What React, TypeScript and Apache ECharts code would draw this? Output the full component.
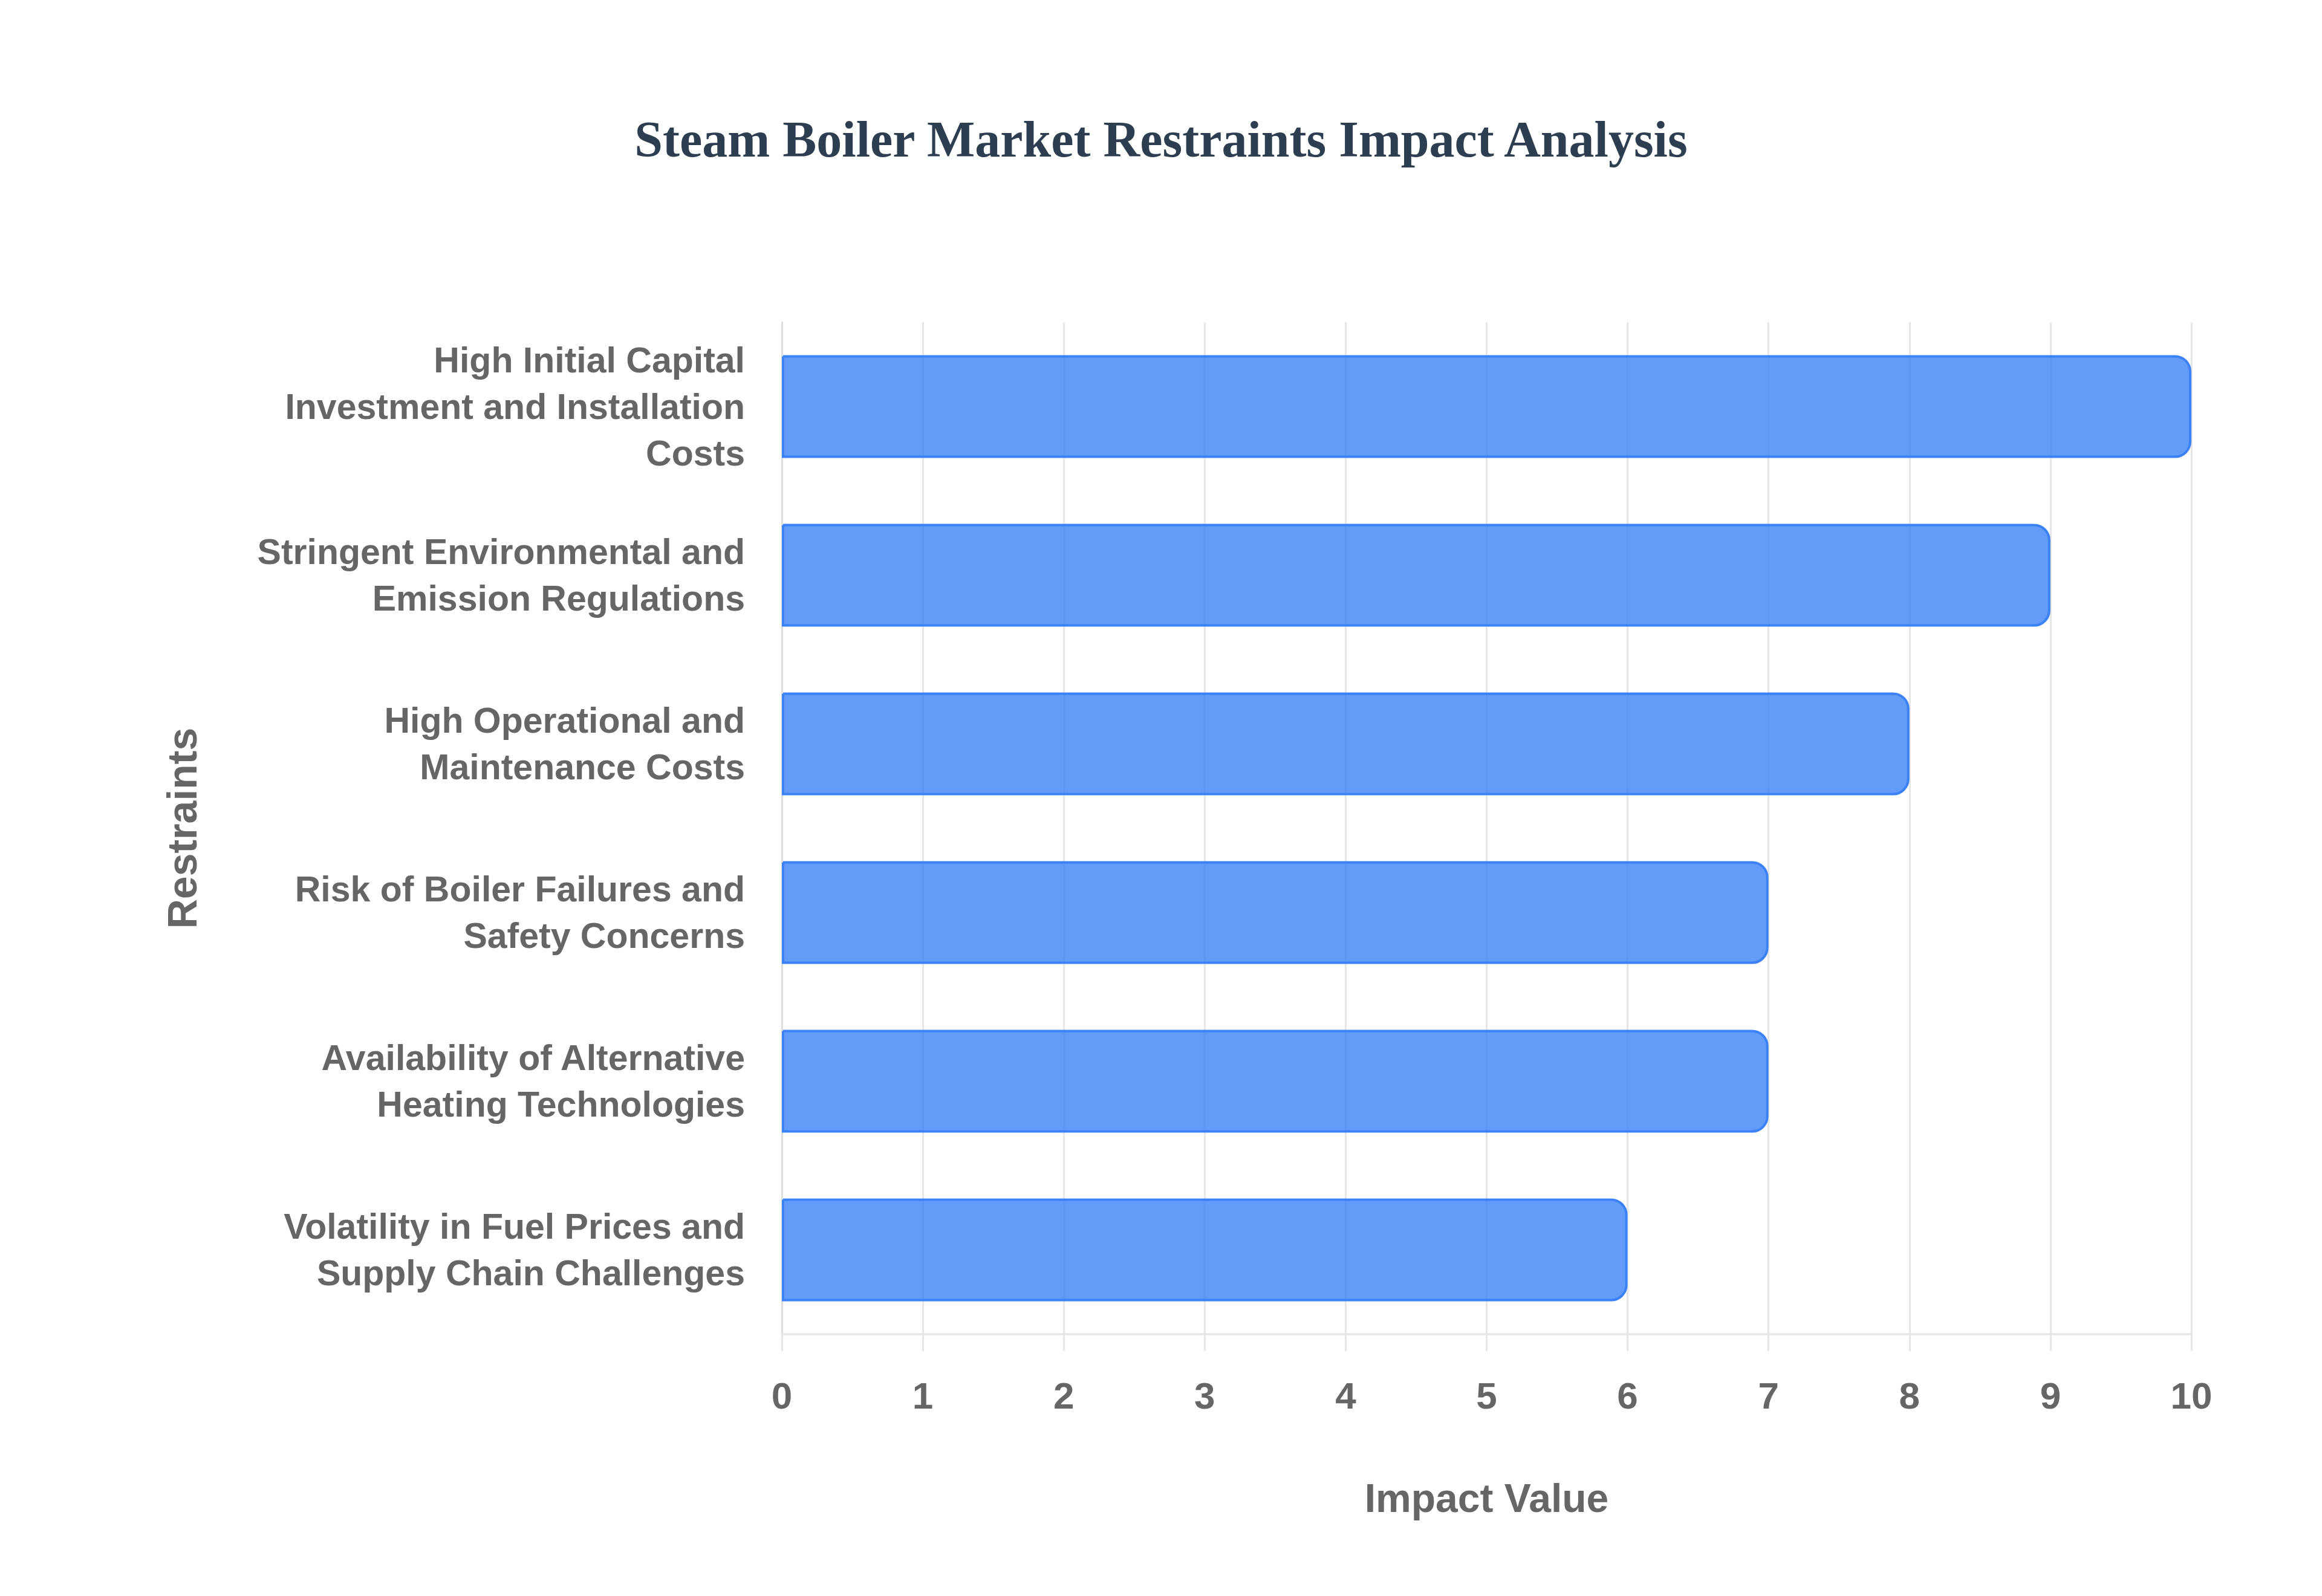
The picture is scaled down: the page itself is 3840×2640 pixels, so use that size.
import * as echarts from 'echarts';
import { useEffect, useRef } from 'react';

// restraint categories, top to bottom
const restraints = [
  'High Initial Capital Investment and Installation Costs',
  'Stringent Environmental and Emission Regulations',
  'High Operational and Maintenance Costs',
  'Risk of Boiler Failures and Safety Concerns',
  'Availability of Alternative Heating Technologies',
  'Volatility in Fuel Prices and Supply Chain Challenges',
];
const impactValues = [10, 9, 8, 7, 7, 6];

const labelFont = 'Liberation Sans, Arial, Helvetica, sans-serif';
const gridColor = '#e6e6e6';

// break long category names into lines of at most `max` characters
function wrapLabel(text: string, max = 30) {
  const lines: string[] = [];
  let cur = '';
  for (const w of text.split(' ')) {
    if (cur && (cur + ' ' + w).length > max) {
      lines.push(cur);
      cur = w;
    } else {
      cur = cur ? cur + ' ' + w : w;
    }
  }
  if (cur) lines.push(cur);
  return lines.join('\n');
}

export default function App() {
  const ref = useRef<HTMLDivElement>(null);

  useEffect(() => {
    document.body.style.margin = '0';
    if (!ref.current) return;
    const chart = echarts.init(ref.current, null, { renderer: 'svg' });
    chart.setOption({
      animation: false,
      backgroundColor: '#ffffff',
      title: {
        text: 'Steam Boiler Market Restraints Impact Analysis',
        left: 'center',
        top: 183,
        textStyle: {
          fontFamily: 'Liberation Serif, Times New Roman, serif',
          fontWeight: 'bold',
          fontSize: 84,
          color: '#2c3e50',
        },
      },
      grid: { left: 1293, right: 216, top: 533, bottom: 433, containLabel: false },
      xAxis: {
        type: 'value',
        min: 0,
        max: 10,
        interval: 1,
        name: 'Impact Value',
        nameLocation: 'middle',
        nameGap: 238,
        nameTextStyle: { fontFamily: labelFont, fontWeight: 'bold', fontSize: 66, color: '#666666' },
        axisLine: { show: true, lineStyle: { color: gridColor, width: 3.5 } },
        axisTick: { show: true, length: 28, lineStyle: { color: gridColor, width: 3 } },
        splitLine: { show: true, lineStyle: { color: gridColor, width: 3 } },
        axisLabel: {
          margin: 70,
          fontFamily: labelFont,
          fontWeight: 'bold',
          fontSize: 62,
          color: '#666666',
        },
      },
      yAxis: {
        type: 'category',
        inverse: true,
        data: restraints,
        name: 'Restraints',
        nameLocation: 'middle',
        nameGap: 958,
        nameTextStyle: { fontFamily: labelFont, fontWeight: 'bold', fontSize: 68, color: '#666666' },
        axisLine: { show: true, lineStyle: { color: '#dedede', width: 3 } },
        axisTick: { show: false },
        splitLine: { show: false },
        axisLabel: {
          margin: 61,
          fontFamily: labelFont,
          fontWeight: 'bold',
          fontSize: 59,
          lineHeight: 77,
          padding: [0, 0, 10, 0],
          color: '#666666',
          formatter: (v: string) => wrapLabel(v),
        },
      },
      series: [
        {
          type: 'bar',
          data: impactValues,
          barWidth: '61%',
          itemStyle: {
            color: 'rgba(59,130,246,0.8)',
            borderColor: '#3b82f6',
            borderWidth: 4,
            borderRadius: [0, 25, 25, 0],
          },
        },
      ],
    });
    return () => chart.dispose();
  }, []);

  return <div ref={ref} style={{ width: 3840, height: 2640 }} />;
}
